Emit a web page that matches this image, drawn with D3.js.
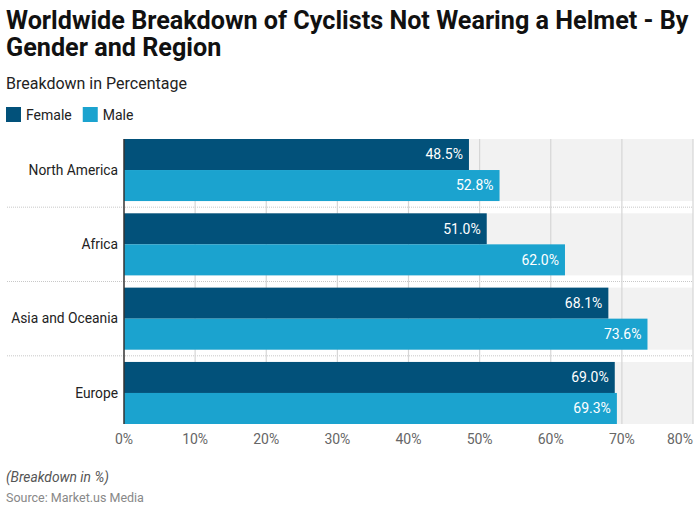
<!DOCTYPE html>
<html>
<head>
<meta charset="utf-8">
<script src="https://cdn.jsdelivr.net/npm/d3@7"></script>
<style>
    body { margin: 0; background: #fff; font-family: Roboto, sans-serif; }
    svg text { font-family: Roboto, sans-serif; }
</style>
</head>
<body>
<div id="chart"></div>
<script>
// chart data
const regions = ['North America', 'Africa', 'Asia and Oceania', 'Europe'];
const seriesNames = ['Female', 'Male'];
const femaleValues = [48.5, 51.0, 68.1, 69.0];
const maleValues = [52.8, 62.0, 73.6, 69.3];
const xTicks = [0, 10, 20, 30, 40, 50, 60, 70, 80];

const colors = {Female: '#02517a', Male: '#1ba3cf'};

// layout
const width = 699, height = 512;
const margin = {t: 139, r: 6, b: 88, l: 124};

const svg = d3.select('#chart')
    .append('svg')
    .attr('width', width)
    .attr('height', height);

// header
svg.append('text')
    .attr('x', 6).attr('y', 29)
    .style('font-size', '25.2px').style('font-weight', 700).style('fill', '#111')
    .text('Worldwide Breakdown of Cyclists Not Wearing a Helmet - By');
svg.append('text')
    .attr('x', 6).attr('y', 56)
    .style('font-size', '25.2px').style('font-weight', 700).style('fill', '#111')
    .text('Gender and Region');
svg.append('text')
    .attr('x', 6).attr('y', 89)
    .style('font-size', '16px').style('fill', '#222')
    .text('Breakdown in Percentage');

// legend
const legend = svg.append('g').attr('transform', 'translate(6,107)');
let lx = 0;
seriesNames.forEach(name => {
    legend.append('rect')
        .attr('x', lx).attr('y', 0)
        .attr('width', 15).attr('height', 15)
        .style('fill', colors[name]);
    const t = legend.append('text')
        .attr('x', lx + 20).attr('y', 12.5)
        .style('font-size', '14px').style('fill', '#222')
        .text(name);
    lx += 20 + t.node().getComputedTextLength() + 11;
});

// scales
const x = d3.scaleLinear()
    .domain([0, 80])
    .range([margin.l, width - margin.r]);

const y = d3.scaleBand()
    .domain(regions)
    .range([margin.t, height - margin.b])
    .paddingInner(0.165)
    .paddingOuter(0);

const ySub = d3.scaleBand()
    .domain(seriesNames)
    .range([0, y.bandwidth()]);

const plot = svg.append('g');

// band backgrounds
plot.selectAll('.band-bg')
    .data(regions)
    .enter()
    .append('rect')
    .attr('class', 'band-bg')
    .attr('x', x(0))
    .attr('y', d => y(d))
    .attr('width', x(80) - x(0))
    .attr('height', y.bandwidth())
    .style('fill', '#f2f2f2');

// separators between bands
const gap = y.step() - y.bandwidth();
plot.selectAll('.sep')
    .data(regions.slice(1))
    .enter()
    .append('line')
    .attr('class', 'sep')
    .attr('x1', 7).attr('x2', x(80))
    .attr('y1', d => y(d) - gap / 2)
    .attr('y2', d => y(d) - gap / 2)
    .style('stroke', '#c8c8c8')
    .style('stroke-width', 1)
    .style('stroke-dasharray', '1,1');

// vertical gridlines
plot.selectAll('.grid')
    .data(xTicks.slice(1))
    .enter()
    .append('line')
    .attr('class', 'grid')
    .attr('x1', d => x(d)).attr('x2', d => x(d))
    .attr('y1', y(regions[0]))
    .attr('y2', y(regions[regions.length - 1]) + y.bandwidth())
    .style('stroke', '#d6d6d6')
    .style('stroke-width', 1.2);

// bars
const rows = [];
regions.forEach((r, i) => {
    rows.push({region: r, series: 'Female', value: femaleValues[i]});
    rows.push({region: r, series: 'Male', value: maleValues[i]});
});

plot.selectAll('.bar')
    .data(rows)
    .enter()
    .append('rect')
    .attr('class', 'bar')
    .attr('x', x(0))
    .attr('y', d => y(d.region) + ySub(d.series))
    .attr('width', d => x(d.value) - x(0))
    .attr('height', ySub.bandwidth())
    .style('fill', d => colors[d.series]);

plot.selectAll('.bar-label')
    .data(rows)
    .enter()
    .append('text')
    .attr('class', 'bar-label')
    .attr('x', d => x(d.value) - 6)
    .attr('y', d => y(d.region) + ySub(d.series) + ySub.bandwidth() / 2)
    .attr('dy', '0.35em')
    .attr('text-anchor', 'end')
    .style('font-size', '14px')
    .style('fill', '#fff')
    .text(d => d.value.toFixed(1) + '%');

// axis line
plot.append('line')
    .attr('x1', x(0)).attr('x2', x(0))
    .attr('y1', y(regions[0]))
    .attr('y2', y(regions[regions.length - 1]) + y.bandwidth())
    .style('stroke', '#333')
    .style('stroke-width', 1.5);

// category labels
plot.selectAll('.cat')
    .data(regions)
    .enter()
    .append('text')
    .attr('class', 'cat')
    .attr('x', x(0) - 6)
    .attr('y', d => y(d) + y.bandwidth() / 2)
    .attr('dy', '0.35em')
    .attr('text-anchor', 'end')
    .style('font-size', '13.8px')
    .style('fill', '#222')
    .text(d => d);

// x tick labels
const axisY = y(regions[regions.length - 1]) + y.bandwidth();
plot.selectAll('.tick-label')
    .data(xTicks)
    .enter()
    .append('text')
    .attr('class', 'tick-label')
    .attr('x', d => x(d))
    .attr('y', axisY + 20)
    .attr('text-anchor', (d, i) => i === xTicks.length - 1 ? 'end' : 'middle')
    .style('font-size', '14px')
    .style('fill', '#666')
    .text(d => d + '%');

// footer
svg.append('text')
    .attr('x', 6).attr('y', 482)
    .style('font-size', '13.8px').style('font-style', 'italic').style('fill', '#555')
    .text('(Breakdown in %)');
svg.append('text')
    .attr('x', 6).attr('y', 502)
    .style('font-size', '12.5px').style('fill', '#888')
    .text('Source: Market.us Media');
</script>
</body>
</html>
